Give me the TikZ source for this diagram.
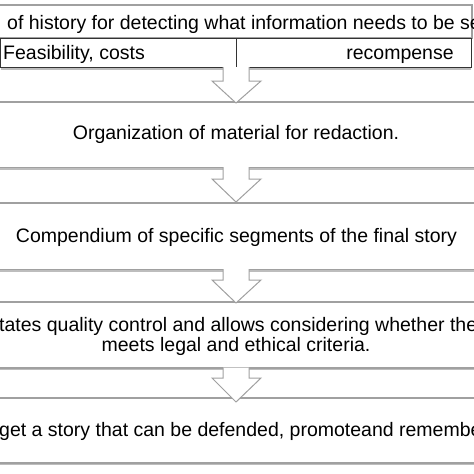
\documentclass[tikz,border=0pt]{standalone}
\usepackage{fontspec}
\setmainfont{Liberation Sans}
\usetikzlibrary{shadows}
\definecolor{boxline}{RGB}{160,160,160}
\definecolor{shadowc}{RGB}{110,110,110}
\begin{document}
\begin{tikzpicture}[x=1pt,y=-1pt,
  stagebox/.style={draw=boxline,line width=1.1pt,fill=white,
    drop shadow={shadow xshift=0pt,shadow yshift=-2pt,opacity=0.45,fill=shadowc}},
  subbox/.style={draw=black!80,line width=0.9pt,fill=white,
    drop shadow={shadow xshift=0pt,shadow yshift=-2pt,opacity=0.45,fill=shadowc}},
  stagetext/.style={font=\fontsize{19.5}{23}\selectfont,text=black,inner sep=0pt},
  blockarrow/.style={draw=boxline,line width=1pt,fill=white,line join=miter}]
\useasboundingbox (0,0) rectangle (474,474);
\clip (0,0) rectangle (474,474);
\fill[white] (0,0) rectangle (474,474);
% top box
\path[stagebox] (-20,5) rectangle (472,38);
\node[stagetext,anchor=base west] (t1) at (7,29) {of history for detecting what information needs to be se};
\path[subbox] (0.5,38) rectangle (236,67.5);
\path[subbox] (236,38) rectangle (471,67.5);
\node[stagetext,anchor=base west] (f1) at (3,59) {Feasibility, costs};
\node[stagetext,anchor=base] (f2) at (400,59) {recompense};
% boxes
\path[stagebox] (-20,102) rectangle (500,167.5);
\node[stagetext] (b2) at (236,134) {Organization of material for redaction.};
\path[stagebox] (-20,203) rectangle (500,269.5);
\node[stagetext] (b3) at (236.5,237) {Compendium of specific segments of the final story};
\path[stagebox] (-20,302) rectangle (500,368);
\node[stagetext,anchor=base west] (b4a) at (-1,331) {tates quality control and allows considering whether the};
\node[stagetext,anchor=base] (b4b) at (236,351) {meets legal and ethical criteria.};
\path[stagebox] (-20,398) rectangle (500,463);
\node[stagetext,anchor=base west] (b5) at (-1,436) {get a story that can be defended, promoteand remembe};
% arrows
\foreach \top/\base/\tip in {68.5/81/103, 168.5/179/202, 270.5/280/303, 369/378/402}{
  \fill[white] (223,\top-1.5) -- (223,\base) -- (212,\base) -- (236,\tip) -- (261,\base) -- (249,\base) -- (249,\top-1.5) -- cycle;
  \draw[blockarrow,fill=none] (223,\top-1.5) -- (223,\base) -- (212,\base) -- (236,\tip) -- (261,\base) -- (249,\base) -- (249,\top-1.5);
}
\end{tikzpicture}
\end{document}
